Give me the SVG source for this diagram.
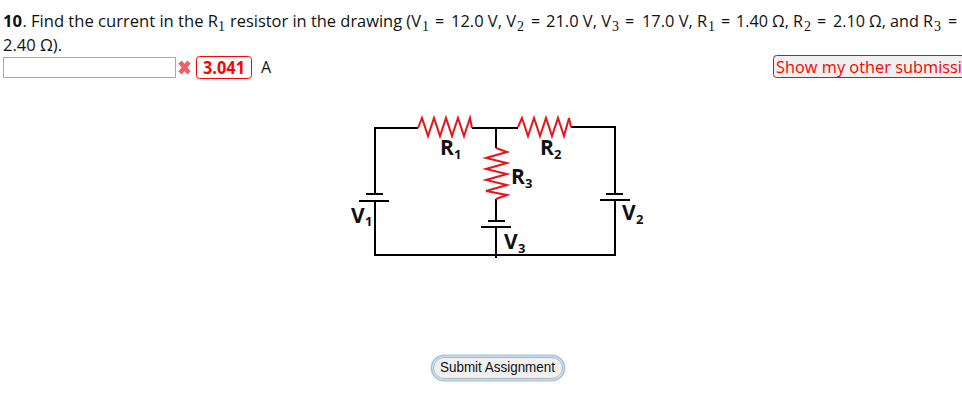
<svg xmlns="http://www.w3.org/2000/svg" width="962" height="403" viewBox="0 0 962 403">
<style>
.t{font-family:"Open Sans","Noto Sans",sans-serif;font-size:16px;fill:#111}
.s{font-family:"Liberation Serif",serif;font-size:14px;fill:#111}
.w{fill:none;stroke:#000;stroke-width:2}
.z{fill:none;stroke:#e8141c;stroke-width:2}
.l{font-family:"Open Sans","Liberation Sans",sans-serif;font-weight:700;font-size:21px;fill:#111}
.ls{font-family:"Open Sans","Liberation Sans",sans-serif;font-weight:700;font-size:13px;fill:#111}
</style>
<rect width="962" height="403" fill="#fff"/>
<g id="question">
<text class="t" x="3" y="27" font-weight="700" textLength="19" lengthAdjust="spacingAndGlyphs">10</text>
<text class="t" x="22.500" y="27">.</text>
<text class="t" x="31" y="27" textLength="187" lengthAdjust="spacingAndGlyphs">Find the current in the R</text>
<text class="s" x="218" y="31">1</text>
<text class="t" x="230" y="27" textLength="191" lengthAdjust="spacingAndGlyphs">resistor in the drawing (V</text>
<text class="s" x="422" y="31">1</text>
<text class="t" x="435" y="27">=</text>
<text class="t" x="451" y="27" textLength="65" lengthAdjust="spacingAndGlyphs">12.0 V, V</text>
<text class="s" x="517" y="31">2</text>
<text class="t" x="531" y="27">=</text>
<text class="t" x="546" y="27" textLength="65" lengthAdjust="spacingAndGlyphs">21.0 V, V</text>
<text class="s" x="612" y="31">3</text>
<text class="t" x="625" y="27">=</text>
<text class="t" x="642" y="27" textLength="65" lengthAdjust="spacingAndGlyphs">17.0 V, R</text>
<text class="s" x="708" y="31">1</text>
<text class="t" x="721" y="27">=</text>
<text class="t" x="736" y="27" textLength="67" lengthAdjust="spacingAndGlyphs">1.40 Ω, R</text>
<text class="s" x="804" y="31">2</text>
<text class="t" x="817" y="27">=</text>
<text class="t" x="833" y="27" textLength="100" lengthAdjust="spacingAndGlyphs">2.10 Ω, and R</text>
<text class="s" x="934" y="31">3</text>
<text class="t" x="948" y="27">=</text>
<text class="t" x="3" y="51" textLength="59" lengthAdjust="spacingAndGlyphs">2.40 Ω).</text>
</g>
<g id="answer">
<rect x="3.500" y="57.500" width="172" height="20" fill="#fff" stroke="#a9a9a9" stroke-width="1"/>
<path d="M180 62L189 73M189 62L180 73" stroke="#f0606a" stroke-width="4.500" fill="none"/>
<rect x="196.500" y="56.500" width="55" height="22" rx="3" fill="#fff" stroke="#f00" stroke-width="1"/>
<text x="203" y="74" font-family="Open Sans,Liberation Sans,sans-serif" font-weight="700" font-size="17" fill="#f00" textLength="42" lengthAdjust="spacingAndGlyphs">3.041</text>
<text class="t" x="261" y="73">A</text>
</g>
<g id="show-submissions">
<rect x="773.500" y="55.500" width="200" height="22" rx="3" fill="#f0f0f0" stroke="#f00" stroke-width="1"/>
<text x="776" y="73" font-family="Open Sans,Noto Sans,sans-serif" font-size="16" fill="#f00" textLength="186" lengthAdjust="spacingAndGlyphs">Show my other submissi</text>
</g>
<g id="connectors">
<path class="w" d="M418 128H375V194M375 201V255H615V200M615 194V127H571M472 128H518M496 128V148M496 199V221M496 227V258"/>
</g>
<g id="V1"><path class="w" d="M366 194H383M359 201H389"/><text class="l" x="351" y="223">V</text><text class="ls" x="365" y="226">1</text></g>
<g id="V2"><path class="w" d="M606 194H623M600 200H630"/><text class="l" x="622" y="220">V</text><text class="ls" x="636" y="224">2</text></g>
<g id="V3"><path class="w" d="M488 221H505M481 227H511"/><text class="l" x="504" y="249">V</text><text class="ls" x="518" y="253">3</text></g>
<g id="R1"><path class="z" d="M418 128L422 118L428 136L434 118L440 136L446 118L452 136L458 118L464 136L470 118L472 128"/><text class="l" x="440" y="155">R</text><text class="ls" x="454" y="159">1</text></g>
<g id="R2"><path class="z" d="M518 127L522 118L528 136L534 118L540 136L546 118L552 136L558 118L564 136L569 118L571 127"/><text class="l" x="540" y="155">R</text><text class="ls" x="554" y="159">2</text></g>
<g id="R3"><path class="z" d="M496 148L507 152L486 158L507 163L486 169L507 174L486 180L507 185L486 191L507 195L496 199"/><text class="l" x="511" y="184">R</text><text class="ls" x="525" y="188">3</text></g>
<g id="submit">
<rect x="431.500" y="355.500" width="133" height="25" rx="12.500" fill="#efefef" stroke="#a6c8e6" stroke-width="2"/>
<rect x="433.500" y="357.500" width="129" height="21" rx="10.500" fill="#efefef" stroke="#b5b5b5" stroke-width="1"/>
<text x="440" y="372" font-family="Liberation Sans,sans-serif" font-size="14" fill="#111" textLength="115" lengthAdjust="spacingAndGlyphs">Submit Assignment</text>
</g>
</svg>
